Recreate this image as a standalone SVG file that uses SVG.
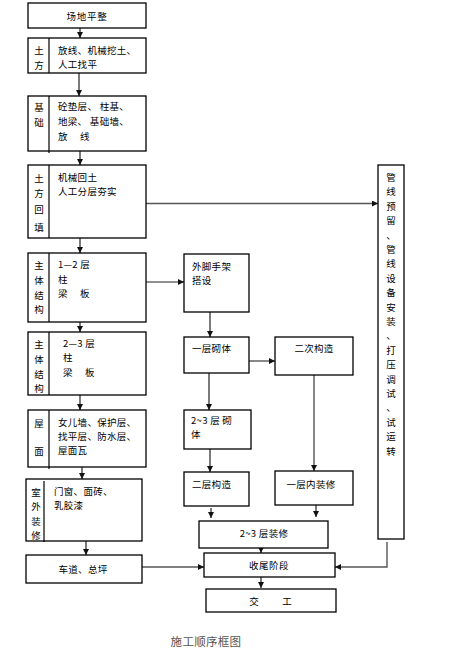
<svg xmlns="http://www.w3.org/2000/svg" width="450" height="655" viewBox="0 0 450 655">
<style>
.box{fill:#fff;stroke:#000;stroke-width:1.3}
.div{stroke:#000;stroke-width:1.2}
.t{font-family:"Noto Sans CJK SC","Liberation Sans",sans-serif;font-size:9.5px;letter-spacing:0.3px;fill:#000}
.m{text-anchor:middle;letter-spacing:0}
.c{stroke:#222;stroke-width:1.2;fill:none}
.g{stroke:#555;stroke-width:1.4;fill:none}
.cap{font-family:"Noto Sans CJK SC","Liberation Serif",serif;font-size:11.5px;letter-spacing:0.3px;fill:#555;text-anchor:middle}
</style>
<defs>
<marker id="ah" markerUnits="userSpaceOnUse" markerWidth="7" markerHeight="6" refX="6" refY="3" orient="auto">
<path d="M0,0 L6,3 L0,6 Z" fill="#111"/>
</marker>
</defs>
<rect width="450" height="655" fill="#fff"/>

<g id="connectors">
<line class="c" x1="80" y1="28" x2="80" y2="38" marker-end="url(#ah)"/>
<line class="c" x1="79" y1="73" x2="79" y2="96" marker-end="url(#ah)"/>
<line class="c" x1="80" y1="151" x2="80" y2="165" marker-end="url(#ah)"/>
<line class="g" x1="146" y1="203.5" x2="378" y2="203.5" marker-end="url(#ah)"/>
<line class="c" x1="80" y1="238" x2="80" y2="253" marker-end="url(#ah)"/>
<line class="c" x1="146" y1="282" x2="184" y2="282" marker-end="url(#ah)"/>
<line class="c" x1="80" y1="322" x2="80" y2="332" marker-end="url(#ah)"/>
<line class="c" x1="80" y1="395" x2="80" y2="410" marker-end="url(#ah)"/>
<line class="c" x1="82" y1="467" x2="82" y2="479" marker-end="url(#ah)"/>
<line class="c" x1="86" y1="535" x2="86" y2="555" marker-end="url(#ah)"/>
<line class="g" x1="142" y1="567" x2="204" y2="567" marker-end="url(#ah)"/>
<line class="c" x1="210" y1="312" x2="210" y2="337" marker-end="url(#ah)"/>
<line class="g" x1="249" y1="361" x2="275" y2="361" marker-end="url(#ah)"/>
<line class="c" x1="209" y1="373" x2="209" y2="410" marker-end="url(#ah)"/>
<line class="g" x1="314" y1="375" x2="314" y2="471" marker-end="url(#ah)"/>
<line class="c" x1="210" y1="449" x2="210" y2="472" marker-end="url(#ah)"/>
<line class="c" x1="211" y1="508" x2="211" y2="518" marker-end="url(#ah)"/>
<line class="c" x1="316" y1="505" x2="316" y2="517" marker-end="url(#ah)"/>
<line class="c" x1="261" y1="548" x2="261" y2="553" marker-end="url(#ah)"/>
<polyline class="g" points="387,542 387,567 335,567" marker-end="url(#ah)"/>
<line class="c" x1="261" y1="577" x2="261" y2="588" marker-end="url(#ah)"/>
</g>

<g id="n-site">
<rect class="box" x="28" y="3" width="118" height="25"/>
<text class="t m" x="87" y="19.5" style="letter-spacing:0.8px">场地平整</text>
</g>

<g id="n-earth">
<rect class="box" x="28" y="38" width="118" height="35"/>
<line class="div" x1="49" y1="38" x2="49" y2="73"/>
<text class="t m" x="39" y="54">土</text>
<text class="t m" x="39" y="69">方</text>
<text class="t" x="58" y="54">放线、机械挖土、</text>
<text class="t" x="58" y="68">人工找平</text>
</g>

<g id="n-found">
<rect class="box" x="28" y="96" width="118" height="55"/>
<line class="div" x1="49" y1="96" x2="49" y2="153"/>
<text class="t m" x="39" y="111">基</text>
<text class="t m" x="39" y="126">础</text>
<text class="t" x="58" y="110">砼垫层、 柱基、</text>
<text class="t" x="58" y="125">地梁、 基础墙、</text>
<text class="t" x="58" y="140">放　 线</text>
</g>

<g id="n-backfill">
<rect class="box" x="28" y="165" width="118" height="73"/>
<line class="div" x1="49" y1="165" x2="49" y2="238"/>
<text class="t m" x="39" y="182">土</text>
<text class="t m" x="39" y="197">方</text>
<text class="t m" x="39" y="213">回</text>
<text class="t m" x="39" y="231">填</text>
<text class="t" x="58" y="181">机械回土</text>
<text class="t" x="58" y="195">人工分层夯实</text>
</g>

<g id="n-struct1">
<rect class="box" x="28" y="253" width="118" height="69"/>
<line class="div" x1="49" y1="253" x2="49" y2="322"/>
<text class="t m" x="39" y="269">主</text>
<text class="t m" x="39" y="284">体</text>
<text class="t m" x="39" y="299">结</text>
<text class="t m" x="39" y="313">构</text>
<text class="t" x="58" y="268">1—2 层</text>
<text class="t" x="58" y="283">柱</text>
<text class="t" x="58" y="297">梁　 板</text>
</g>

<g id="n-struct2">
<rect class="box" x="28" y="332" width="118" height="63"/>
<line class="div" x1="49" y1="332" x2="49" y2="395"/>
<text class="t m" x="39" y="348">主</text>
<text class="t m" x="39" y="363">体</text>
<text class="t m" x="39" y="378">结</text>
<text class="t m" x="39" y="392">构</text>
<text class="t" x="63" y="347">2—3 层</text>
<text class="t" x="63" y="361">柱</text>
<text class="t" x="63" y="376">梁　 板</text>
</g>

<g id="n-roof">
<rect class="box" x="28" y="410" width="118" height="57"/>
<line class="div" x1="49" y1="410" x2="49" y2="469"/>
<text class="t m" x="39" y="427">屋</text>
<text class="t m" x="39" y="455">面</text>
<text class="t" x="58" y="426">女儿墙、保护层、</text>
<text class="t" x="58" y="440">找平层、防水层、</text>
<text class="t" x="58" y="454">屋面瓦</text>
</g>

<g id="n-exterior">
<rect class="box" x="26" y="479" width="116" height="62"/>
<line class="div" x1="44" y1="481" x2="44" y2="542"/>
<text class="t m" x="36" y="495.5">室</text>
<text class="t m" x="36" y="510">外</text>
<text class="t m" x="36" y="524.5">装</text>
<text class="t m" x="36" y="539">修</text>
<text class="t" x="54" y="495">门窗、面砖、</text>
<text class="t" x="54" y="509">乳胶漆</text>
</g>

<g id="n-road">
<rect class="box" x="26" y="555" width="116" height="28"/>
<text class="t m" x="83" y="573" style="letter-spacing:0.3px">车道、总坪</text>
</g>

<g id="n-scaffold">
<rect class="box" x="184" y="254" width="65" height="58"/>
<text class="t" x="192" y="270">外脚手架</text>
<text class="t" x="192" y="284">搭设</text>
</g>

<g id="n-masonry1">
<rect class="box" x="184" y="337" width="65" height="36"/>
<text class="t" x="192" y="352">一层砌体</text>
</g>

<g id="n-secondary">
<rect class="box" x="275" y="337" width="78" height="38"/>
<text class="t m" x="314" y="352" style="letter-spacing:0.3px">二次构造</text>
</g>

<g id="n-masonry23">
<rect class="box" x="184" y="410" width="67" height="39"/>
<text class="t" x="191" y="424">2~3 层 砌</text>
<text class="t" x="191" y="438">体</text>
</g>

<g id="n-struct2f">
<rect class="box" x="184" y="472" width="65" height="34"/>
<text class="t" x="192" y="488">二层构造</text>
</g>

<g id="n-interior1">
<rect class="box" x="275" y="471" width="78" height="34"/>
<text class="t m" x="311" y="488" style="letter-spacing:0.3px">一层内装修</text>
</g>

<g id="n-interior23">
<rect class="box" x="199" y="521" width="129" height="27"/>
<text class="t m" x="264" y="537" style="letter-spacing:0.3px">2~3 层装修</text>
</g>

<g id="n-finish">
<rect class="box" x="204" y="553" width="131" height="24"/>
<text class="t m" x="269" y="569" style="letter-spacing:0.5px">收尾阶段</text>
</g>

<g id="n-handover">
<rect class="box" x="206" y="589" width="130" height="23"/>
<text class="t m" x="254" y="605">交</text>
<text class="t m" x="287" y="605">工</text>
</g>

<g id="n-pipes">
<rect class="box" x="378" y="165" width="26" height="374"/>
<text class="t m" x="391" y="181">管</text>
<text class="t m" x="391" y="195.4">线</text>
<text class="t m" x="391" y="209.8">预</text>
<text class="t m" x="391" y="224.2">留</text>
<text class="t m" x="391" y="238.6">、</text>
<text class="t m" x="391" y="253">管</text>
<text class="t m" x="391" y="267.4">线</text>
<text class="t m" x="391" y="281.8">设</text>
<text class="t m" x="391" y="296.2">备</text>
<text class="t m" x="391" y="310.6">安</text>
<text class="t m" x="391" y="325">装</text>
<text class="t m" x="391" y="339.4">、</text>
<text class="t m" x="391" y="353.8">打</text>
<text class="t m" x="391" y="368.2">压</text>
<text class="t m" x="391" y="382.6">调</text>
<text class="t m" x="391" y="397">试</text>
<text class="t m" x="391" y="411.4">、</text>
<text class="t m" x="391" y="425.8">试</text>
<text class="t m" x="391" y="440.2">运</text>
<text class="t m" x="391" y="454.6">转</text>
</g>

<text class="cap" x="206" y="646">施工顺序框图</text>
</svg>
